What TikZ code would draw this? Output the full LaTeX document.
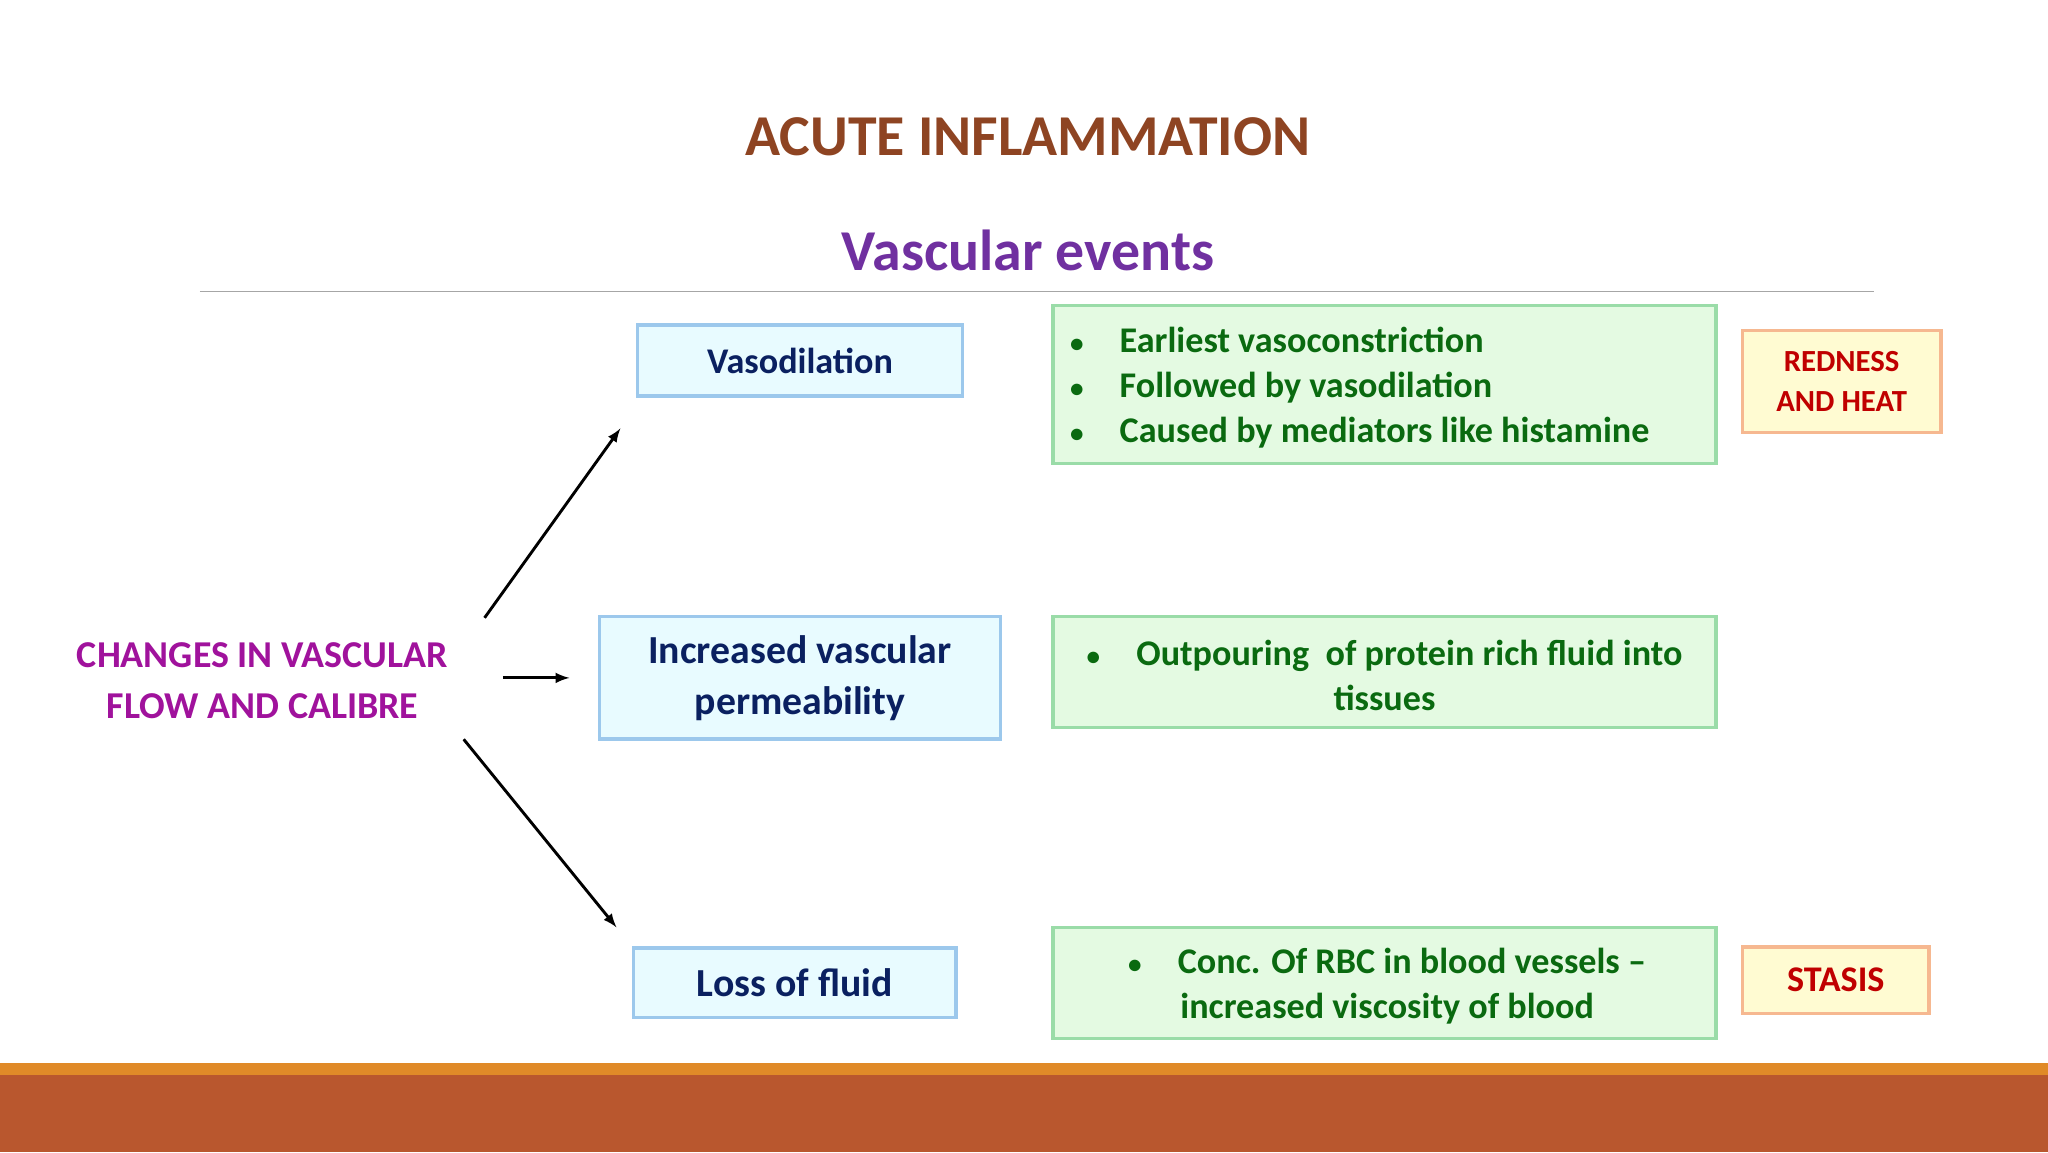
\documentclass[tikz,border=0pt]{standalone}
\usepackage{fontspec}
\setmainfont{Carlito}
\definecolor{ttl}{HTML}{8E4422}
\definecolor{vio}{HTML}{7030A0}
\definecolor{navy}{HTML}{0A2060}
\definecolor{bbd}{HTML}{9CC8EC}
\definecolor{bfl}{HTML}{E8FBFF}
\definecolor{gbd}{HTML}{9ADCA8}
\definecolor{gfl}{HTML}{E4FAE2}
\definecolor{gtx}{HTML}{0A6A10}
\definecolor{ybd}{HTML}{F6B890}
\definecolor{yfl}{HTML}{FFFBD2}
\definecolor{rtx}{HTML}{C00000}
\definecolor{mag}{HTML}{A0129C}
\definecolor{bar1}{HTML}{E08A28}
\definecolor{bar2}{HTML}{B9572E}
\newcommand{\bul}{{\fontsize{15}{20}\selectfont\textbullet}\hspace{20pt}}
\begin{document}
\begin{tikzpicture}[x=0.0254cm,y=-0.0254cm,
  bluebox/.style={draw=bbd, line width=2pt, fill=bfl, text=navy, inner sep=0pt},
  greenbox/.style={draw=gbd, line width=2pt, fill=gfl, text=gtx, inner sep=0pt, font=\fontsize{20}{25}\selectfont\bfseries},
  gtext/.style={text=gtx, inner sep=0pt, font=\fontsize{20}{25}\selectfont\bfseries},
  yelbox/.style={draw=ybd, line width=2pt, fill=yfl, text=rtx, inner sep=0pt, font=\fontsize{17}{22}\selectfont\bfseries},
  arr/.style={line width=1.6pt,-latex}]
\useasboundingbox (0,0) rectangle (1568,882);
\fill[white] (0,0) rectangle (1568,882);
\fill[bar1] (0,814) rectangle (1568,823);
\fill[bar2] (0,823) rectangle (1568,882);
\node[text=ttl, font=\fontsize{32}{36}\selectfont\bfseries] (t1) at (787,105) {ACUTE INFLAMMATION};
\node[text=vio, font=\fontsize{32}{36}\selectfont\bfseries] (t2) at (787,192) {Vascular events};
\draw[gray!70, line width=0.8pt] (153,223) -- (1435,223);

\node[bluebox, minimum width={249*0.7227pt}, minimum height={54*0.7227pt}, font=\fontsize{20}{24}\selectfont\bfseries] (b1) at (612.5,276) {Vasodilation};
\node[bluebox, minimum width={307*0.7227pt}, minimum height={94*0.7227pt}, align=center, font=\fontsize{22}{28}\selectfont\bfseries] (b2) at (612.5,519) {Increased vascular\\permeability};
\node[bluebox, minimum width={247*0.7227pt}, minimum height={53*0.7227pt}, font=\fontsize{22}{26}\selectfont\bfseries] (b3) at (608.5,752.5) {Loss of fluid};

\node[greenbox, minimum width={508*0.7227pt}, minimum height={121*0.7227pt}] (g1) at (1060,294.5) {};
\node[gtext, anchor=west, align=left] (g1t) at (819,297) {\bul Earliest vasoconstriction\\\bul Followed by vasodilation\\\bul Caused by mediators like histamine};
\node[greenbox, minimum width={508*0.7227pt}, minimum height={85*0.7227pt}] (g2) at (1060,514.5) {};
\node[gtext, align=center] (g2t) at (1060,517) {\bul Outpouring\ \ of protein rich fluid into\\tissues};
\node[greenbox, minimum width={508*0.7227pt}, minimum height={85*0.7227pt}] (g3) at (1060,752.5) {};
\node[gtext, align=center] (g3t) at (1062,755) {\bul Conc. Of RBC in blood vessels –\\increased viscosity of blood};

\node[yelbox, minimum width={152*0.7227pt}, minimum height={78*0.7227pt}, align=center] (y1) at (1410,292) {REDNESS\\AND HEAT};
\node[yelbox, minimum width={143*0.7227pt}, minimum height={51*0.7227pt}, font=\fontsize{20}{24}\selectfont\bfseries] (y2) at (1405.5,750.5) {STASIS};

\node[text=mag, font=\fontsize{21}{28}\selectfont\bfseries, align=center] (c) at (201,521) {CHANGES IN VASCULAR\\FLOW AND CALIBRE};
\coordinate (a1) at (371,473); \coordinate (e1) at (475,328);
\coordinate (a2) at (385,519); \coordinate (e2) at (436,519);
\coordinate (a3) at (355,566); \coordinate (e3) at (472,710);
\draw[arr] (a1) -- (e1);
\draw[arr] (a2) -- (e2);
\draw[arr] (a3) -- (e3);
\end{tikzpicture}
\end{document}
